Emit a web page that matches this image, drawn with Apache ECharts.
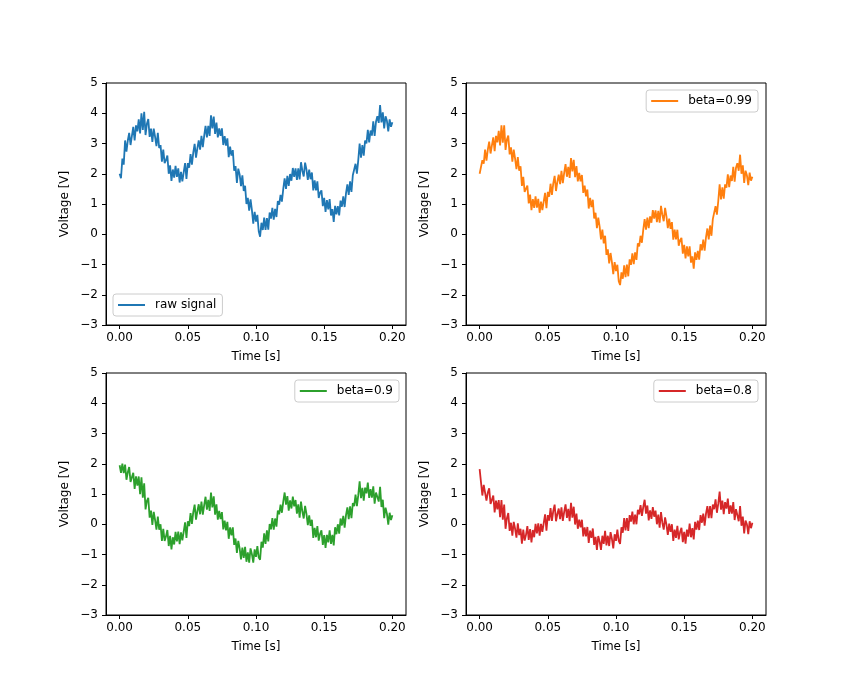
<!DOCTYPE html>
<html>
<head>
    <meta charset="utf-8">
    <title>beta filter</title>
    <script src="https://cdn.jsdelivr.net/npm/echarts@6/dist/echarts.min.js"></script>
    <style>
        html, body { margin: 0; padding: 0; background: #fff; }
        #main { width: 850px; height: 691px; }
    </style>
</head>
<body>
<div id="main"></div>
<script type="text/javascript">
    // sample step in seconds, signals
    var dt = 0.001;
    var xTicks = [0, 0.05, 0.1, 0.15, 0.2];

    var rawSignal = [2.0, 1.85, 2.5, 2.3, 3.1, 2.73, 3.1, 3.35, 2.95, 3.25,
        3.55, 3.1, 3.6, 3.4, 3.8, 3.33, 4.0, 3.45, 4.05, 3.28,
        3.65, 3.81, 3.22, 3.49, 3.05, 3.49, 3.22, 2.91, 3.35, 2.85,
        2.95, 2.4, 2.8, 2.35, 2.45, 2.6, 2.0, 2.28, 1.76, 2.14,
        1.87, 2.26, 1.9, 2.18, 1.71, 2.06, 1.75, 2.05, 2.35, 1.83,
        2.35, 2.2, 2.65, 2.3, 2.7, 2.99, 2.53, 2.84, 3.1, 2.8,
        3.25, 2.88, 3.25, 3.58, 3.2, 3.58, 3.25, 3.93, 3.5, 3.89,
        3.32, 3.69, 3.2, 3.5, 3.25, 3.5, 2.95, 3.24, 2.93, 3.17,
        2.55, 2.9, 2.6, 2.78, 2.1, 2.25, 1.7, 2.17, 1.98, 1.59,
        1.95, 1.43, 1.6, 1.0, 1.2, 0.78, 1.15, 0.8, 0.35, 0.74,
        0.42, 0.64, 0.1, -0.08, 0.38, 0.14, 0.55, 0.14, 0.53, 0.15,
        0.72, 0.52, 0.87, 0.48, 0.84, 0.57, 1.1, 0.98, 1.3, 1.08,
        1.5, 1.85, 1.5, 1.93, 1.6, 1.99, 1.77, 2.19, 1.9, 2.18,
        1.8, 2.18, 1.81, 2.38, 2.1, 1.91, 2.37, 2.14, 1.8, 2.14,
        1.82, 2.04, 1.45, 1.78, 1.45, 1.75, 1.2, 1.38, 1.45, 0.93,
        1.2, 0.74, 1.13, 0.82, 1.16, 0.62, 0.83, 0.41, 0.94, 0.66,
        0.93, 0.62, 1.11, 0.91, 1.25, 0.9, 1.35, 1.65, 1.3, 1.75,
        1.4, 1.95, 1.9, 2.33, 2.0, 2.45, 3.0, 2.53, 2.95, 2.6,
        3.1, 3.0, 3.45, 3.04, 3.43, 3.26, 3.73, 3.25, 3.72, 3.9,
        3.68, 4.27, 3.7, 4.03, 3.5, 3.9, 3.75, 3.4, 3.8, 3.55,
        3.7];

    var beta099 = [2.0, 1.95, 2.45, 2.33, 2.8, 2.43, 2.8, 3.06, 2.67, 2.94,
        3.2, 2.75, 3.25, 3.04, 3.42, 2.94, 3.6, 3.03, 3.6, 2.79,
        3.13, 3.26, 2.64, 2.87, 2.4, 2.8, 2.5, 2.15, 2.55, 2.1,
        2.25, 1.6, 1.9, 1.4, 1.45, 1.61, 1.02, 1.31, 0.8, 1.16,
        0.87, 1.25, 0.88, 1.17, 0.71, 1.08, 0.8, 1.09, 1.37, 0.86,
        1.4, 1.24, 1.67, 1.3, 1.68, 1.93, 1.43, 1.73, 1.97, 1.66,
        2.1, 1.69, 2.03, 2.32, 1.9, 2.23, 1.86, 2.52, 2.08, 2.46,
        1.89, 2.25, 1.75, 2.03, 1.75, 1.96, 1.37, 1.61, 1.25, 1.48,
        0.85, 1.2, 0.9, 1.14, 0.52, 0.71, 0.2, 0.55, 0.25, -0.17,
        0.15, -0.3, -0.05, -0.68, -0.5, -0.96, -0.62, -0.92, -1.32, -0.92,
        -1.22, -1.01, -1.55, -1.68, -1.26, -1.47, -1.03, -1.42, -1.0, -1.39,
        -0.83, -1.01, -0.63, -0.99, -0.6, -0.85, -0.3, -0.4, -0.05, -0.28,
        0.15, 0.5, 0.15, 0.55, 0.2, 0.59, 0.38, 0.8, 0.52, 0.79,
        0.4, 0.77, 0.38, 0.94, 0.64, 0.43, 0.87, 0.59, 0.2, 0.52,
        0.18, 0.4, -0.18, 0.15, -0.17, 0.15, -0.38, -0.2, -0.12, -0.64,
        -0.35, -0.8, -0.4, -0.73, -0.4, -0.94, -0.73, -1.14, -0.6, -0.85,
        -0.55, -0.84, -0.33, -0.53, -0.18, -0.54, -0.1, 0.19, -0.17, 0.29,
        -0.05, 0.5, 0.45, 0.93, 0.65, 1.1, 1.65, 1.15, 1.55, 1.18,
        1.65, 1.54, 1.98, 1.56, 1.94, 1.76, 2.23, 1.74, 2.2, 2.35,
        2.1, 2.63, 2.0, 2.28, 1.7, 2.1, 1.95, 1.62, 2.04, 1.77,
        1.9];

    var beta09 = [1.95, 1.7, 2.0, 1.69, 1.97, 1.47, 1.72, 1.89, 1.4, 1.55,
        1.7, 1.17, 1.58, 1.28, 1.58, 0.99, 1.55, 0.88, 1.35, 0.49,
        0.77, 0.87, 0.22, 0.45, -0.02, 0.41, 0.14, -0.18, 0.25, -0.18,
        0.0, -0.55, -0.15, -0.55, -0.4, -0.19, -0.72, -0.38, -0.83, -0.43,
        -0.67, -0.25, -0.57, -0.24, -0.66, -0.27, -0.53, -0.24, 0.06, -0.45,
        0.1, -0.06, 0.37, 0.01, 0.4, 0.65, 0.15, 0.43, 0.66, 0.33,
        0.75, 0.32, 0.63, 0.91, 0.48, 0.81, 0.44, 1.05, 0.56, 0.92,
        0.32, 0.66, 0.15, 0.44, 0.17, 0.4, -0.17, 0.12, -0.2, 0.08,
        -0.48, -0.1, -0.37, -0.1, -0.68, -0.47, -0.95, -0.55, -0.8, -1.16,
        -0.77, -1.11, -0.75, -1.24, -0.93, -1.27, -0.8, -0.99, -1.27, -0.83,
        -1.08, -0.72, -1.1, -1.17, -0.58, -0.77, -0.3, -0.65, -0.2, -0.57,
        0.01, -0.17, 0.2, -0.18, 0.19, -0.08, 0.45, 0.33, 0.65, 0.38,
        0.75, 1.05, 0.65, 0.93, 0.45, 0.79, 0.52, 0.91, 0.59, 0.8,
        0.35, 0.66, 0.22, 0.75, 0.42, 0.19, 0.61, 0.34, -0.03, 0.29,
        -0.05, 0.15, -0.45, -0.12, -0.43, -0.06, -0.54, -0.32, -0.2, -0.68,
        -0.36, -0.78, -0.35, -0.6, -0.2, -0.65, -0.35, -0.7, -0.1, -0.33,
        0.0, -0.31, 0.19, -0.04, 0.28, -0.11, 0.3, 0.56, 0.17, 0.59,
        0.2, 0.7, 0.6, 0.98, 0.6, 0.96, 1.42, 0.86, 1.2, 0.78,
        1.21, 1.02, 1.38, 0.87, 1.16, 0.88, 1.25, 0.68, 1.05, 1.1,
        0.75, 1.24, 0.57, 0.81, 0.2, 0.55, 0.35, -0.01, 0.38, 0.14,
        0.3];

    var beta08 = [1.82, 1.86, 0.95, 1.3, 1.25, 0.78, 1.05, 1.19, 0.67, 0.81,
        0.95, 0.39, 0.78, 0.49, 0.8, 0.23, 0.8, 0.15, 0.65, -0.15,
        0.2, 0.37, -0.22, 0.05, -0.38, 0.08, -0.15, -0.44, 0.03, -0.36,
        -0.15, -0.64, -0.18, -0.54, -0.35, -0.06, -0.52, -0.16, -0.6, -0.19,
        -0.43, 0.01, -0.3, 0.03, -0.38, 0.01, -0.25, 0.04, 0.33, -0.21,
        0.3, 0.12, 0.53, 0.11, 0.44, 0.65, 0.1, 0.34, 0.52, 0.17,
        0.56, 0.11, 0.41, 0.66, 0.21, 0.51, 0.1, 0.71, 0.22, 0.58,
        -0.01, 0.35, -0.15, 0.15, -0.1, 0.15, -0.4, -0.1, -0.4, -0.09,
        -0.62, -0.21, -0.45, -0.14, -0.68, -0.42, -0.85, -0.39, -0.57, -0.85,
        -0.38, -0.65, -0.22, -0.7, -0.38, -0.72, -0.26, -0.48, -0.8, -0.33,
        -0.55, -0.18, -0.55, -0.65, -0.1, -0.28, 0.2, -0.2, 0.2, -0.22,
        0.3, 0.09, 0.42, 0.0, 0.32, 0.0, 0.48, 0.33, 0.63, 0.28,
        0.57, 0.81, 0.35, 0.62, 0.13, 0.46, 0.18, 0.57, 0.25, 0.45,
        0.0, 0.32, -0.11, 0.4, 0.05, -0.18, 0.23, -0.01, -0.35, 0.02,
        -0.25, 0.0, -0.55, -0.18, -0.45, -0.05, -0.5, -0.26, -0.12, -0.59,
        -0.25, -0.64, -0.18, -0.41, 0.02, -0.43, -0.13, -0.5, 0.08, -0.18,
        0.12, -0.19, 0.3, 0.05, 0.35, -0.05, 0.35, 0.6, 0.2, 0.6,
        0.2, 0.65, 0.5, 0.82, 0.38, 0.68, 1.08, 0.48, 0.78, 0.33,
        0.73, 0.52, 0.85, 0.34, 0.62, 0.35, 0.73, 0.14, 0.5, 0.5,
        0.1, 0.6, -0.05, 0.25, -0.3, 0.12, 0.0, -0.33, 0.1, -0.13,
        0.05];

    var names = ['raw signal', 'beta=0.99', 'beta=0.9', 'beta=0.8'];
    var colors = ['#1f77b4', '#ff7f0e', '#2ca02c', '#d62728'];
    var signals = [rawSignal, beta099, beta09, beta08];

    function toPoints(arr) {
        return arr.map(function (v, i) { return [+(i * dt).toFixed(4), v]; });
    }

    var font = 'DejaVu Sans';
    var boxes = [
        {left: 106, top: 83},
        {left: 466, top: 83},
        {left: 106, top: 373},
        {left: 466, top: 373}
    ];
    // legend spots: lower left for the first, upper right for the others
    var legendPos = [
        {left: 113, top: 294},
        {right: 92, top: 90},
        {right: 451, top: 380},
        {right: 92, top: 380}
    ];

    var grid = [], xAxis = [], yAxis = [], series = [], legend = [];
    for (var k = 0; k < 4; k++) {
        grid.push({
            left: boxes[k].left, top: boxes[k].top, width: 300, height: 242,
            show: true, borderColor: '#000', borderWidth: 1, backgroundColor: '#fff'
        });
        xAxis.push({
            gridIndex: k, type: 'value', min: -0.01, max: 0.21,
            name: 'Time [s]', nameLocation: 'middle', nameGap: 26,
            nameTextStyle: {color: '#000', fontSize: 12, fontFamily: font},
            axisLine: {show: true, onZero: false, lineStyle: {color: '#000', width: 1}},
            axisTick: {show: true, length: 4, customValues: xTicks, lineStyle: {color: '#000'}},
            axisLabel: {
                customValues: xTicks, margin: 7, color: '#000', fontSize: 12, fontFamily: font,
                formatter: function (v) { return v.toFixed(2); }
            },
            splitLine: {show: false}
        });
        yAxis.push({
            gridIndex: k, type: 'value', min: -3, max: 5, interval: 1,
            name: 'Voltage [V]', nameLocation: 'middle', nameGap: 35,
            nameTextStyle: {color: '#000', fontSize: 12, fontFamily: font},
            axisLine: {show: true, onZero: false, lineStyle: {color: '#000', width: 1}},
            axisTick: {show: true, length: 4, lineStyle: {color: '#000'}},
            axisLabel: {
                margin: 8, color: '#000', fontSize: 12, fontFamily: font,
                formatter: function (v) { return v < 0 ? '\u2212' + (-v) : String(v); }
            },
            splitLine: {show: false}
        });
        series.push({
            name: names[k], type: 'line', xAxisIndex: k, yAxisIndex: k,
            data: toPoints(signals[k]), symbol: 'none', animation: false,
            lineStyle: {color: colors[k], width: 1.8}, itemStyle: {color: colors[k]}
        });
        legend.push(Object.assign({
            data: [names[k]], orient: 'vertical',
            icon: 'rect', itemWidth: 27, itemHeight: 2,
            padding: [5, 6, 5, 5],
            backgroundColor: 'rgba(255,255,255,0.8)', borderColor: '#ccc', borderWidth: 1, borderRadius: 3,
            textStyle: {color: '#000', fontSize: 12, fontFamily: font, padding: [0, 0, 0, 5]},
            selectedMode: false
        }, legendPos[k]));
    }

    var myChart = echarts.init(document.getElementById('main'));
    myChart.setOption({
        animation: false,
        backgroundColor: '#fff',
        grid: grid,
        xAxis: xAxis,
        yAxis: yAxis,
        legend: legend,
        series: series
    });
</script>
</body>
</html>
